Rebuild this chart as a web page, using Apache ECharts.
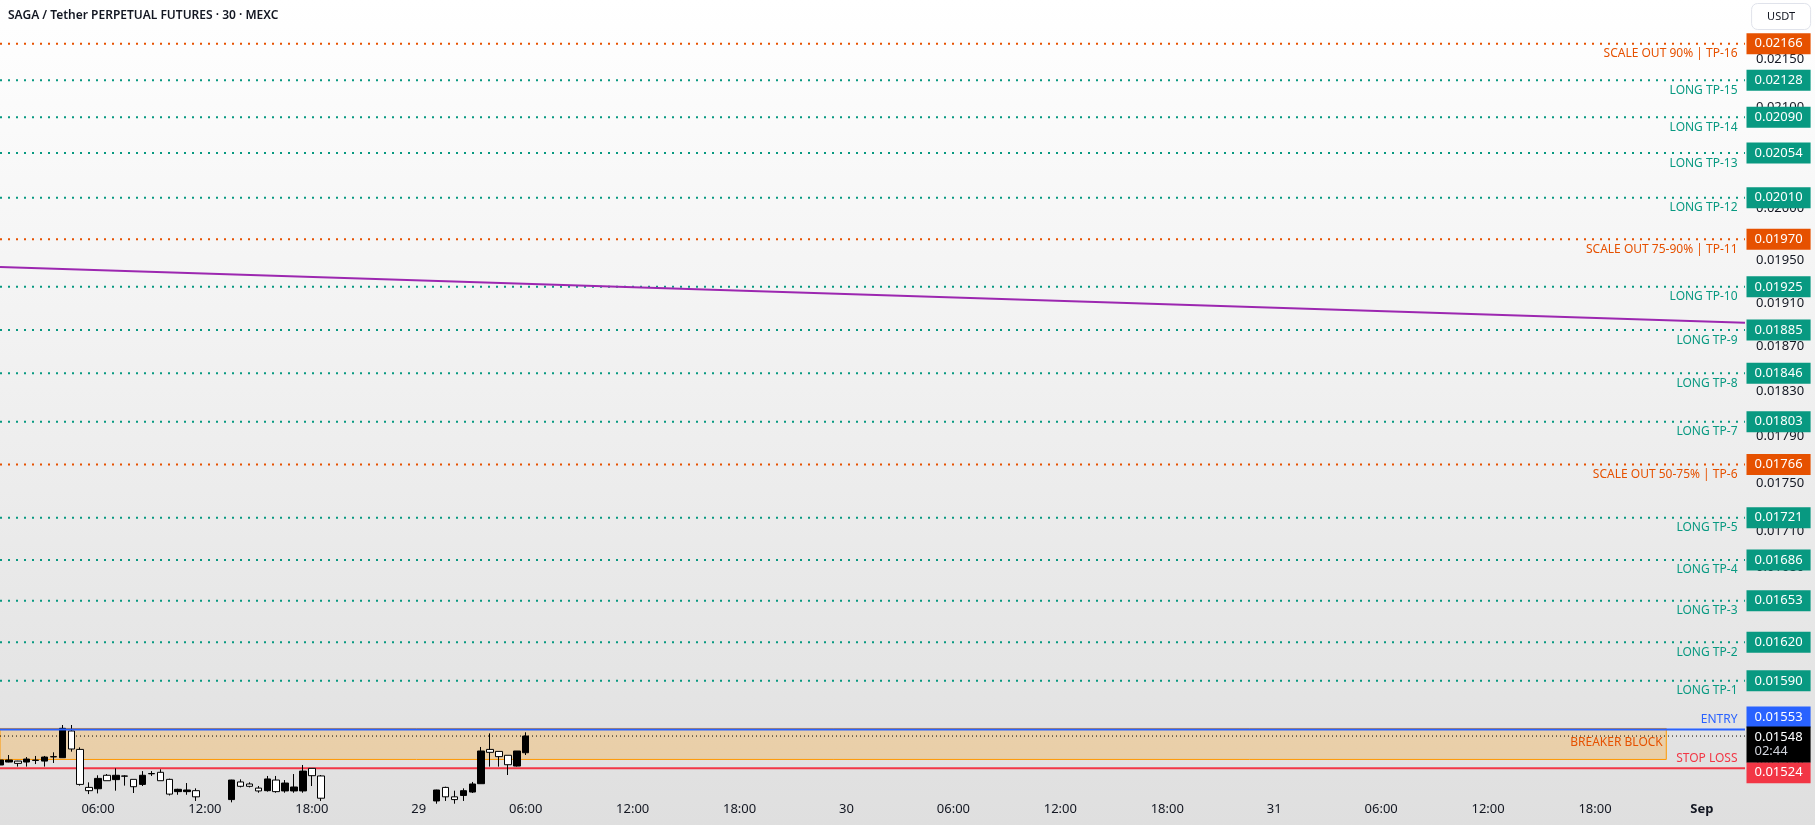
<!DOCTYPE html>
<html><head><meta charset="utf-8">
<script src="https://cdn.jsdelivr.net/npm/echarts@6/dist/echarts.min.js"></script>
<style>html,body{margin:0;padding:0;overflow:hidden;}#c{width:1815px;height:825px;}</style>
</head><body><div id="c"></div>
<script>
// ---------- DATA ----------
const barStart = '2025-08-28T00:30:00Z';   // first visible 30-min bar
const barMinutes = 30;
// [open, close, low, high]
const candles = [
  [0.015264,0.015301,0.015252,0.015338],[0.015286,0.015301,0.015284,0.015338],
  [0.015293,0.015276,0.015252,0.015295],[0.015286,0.015308,0.015252,0.015323],
  [0.015298,0.015300,0.015271,0.015331],[0.015293,0.015323,0.015252,0.015331],
  [0.015324,0.015326,0.015279,0.015358],[0.015318,0.015538,0.015318,0.015563],
  [0.015518,0.015383,0.015363,0.015563],[0.015380,0.015121,0.015112,0.015395],
  [0.015099,0.015075,0.015050,0.015136],[0.015089,0.015165,0.015055,0.015188],
  [0.015188,0.015148,0.015148,0.015197],[0.015156,0.015188,0.015075,0.015239],
  [0.015183,0.015181,0.015112,0.015188],[0.015158,0.015104,0.015058,0.015158],
  [0.015121,0.015188,0.015109,0.015219],[0.015199,0.015201,0.015183,0.015219],
  [0.015210,0.015148,0.015148,0.015232],[0.015158,0.015050,0.015040,0.015163],
  [0.015068,0.015085,0.015045,0.015089],[0.015068,0.015080,0.015045,0.015131],
  [0.015075,0.015030,0.015000,0.015092],[0.015030,0.014980,0.014940,0.015050],
  [0.014980,0.015000,0.014930,0.015040],[0.015000,0.015010,0.014960,0.015050],
  [0.015010,0.015153,0.014990,0.015155],[0.015139,0.015107,0.015099,0.015158],
  [0.015124,0.015107,0.015099,0.015136],[0.015094,0.015073,0.015060,0.015109],
  [0.015075,0.015161,0.015068,0.015183],[0.015153,0.015068,0.015060,0.015183],
  [0.015073,0.015131,0.015060,0.015153],[0.015073,0.015102,0.015060,0.015197],
  [0.015073,0.015219,0.015060,0.015264],[0.015239,0.015185,0.015109,0.015239],
  [0.015183,0.015020,0.015000,0.015190],[0.015020,0.014970,0.014930,0.015050],
  [0.014970,0.014940,0.014900,0.015010],[0.014940,0.014980,0.014910,0.015020],
  [0.014980,0.014950,0.014920,0.015030],[0.014950,0.014900,0.014860,0.014980],
  [0.014900,0.014930,0.014870,0.014970],[0.014930,0.014960,0.014900,0.015000],
  [0.014960,0.014920,0.014890,0.014990],[0.014920,0.014970,0.014900,0.015010],
  [0.014970,0.014990,0.014940,0.015040],[0.014990,0.014960,0.014930,0.015030],
  [0.014960,0.015000,0.014940,0.015040],[0.015000,0.015080,0.014980,0.015082],
  [0.015099,0.015030,0.015000,0.015104],[0.015030,0.015010,0.014980,0.015075],
  [0.015040,0.015075,0.015000,0.015092],[0.015065,0.015124,0.015058,0.015139],
  [0.015126,0.015368,0.015126,0.015398],[0.015380,0.015358,0.015252,0.015500],
  [0.015365,0.015326,0.015252,0.015365],[0.015336,0.015266,0.015190,0.015336],
  [0.015256,0.015368,0.015252,0.015368],[0.015355,0.015480,0.015338,0.015508]
];
const tpLevels = [0.01590,0.01620,0.01653,0.01686,0.01721,0.01766,0.01803,0.01846,
  0.01885,0.01925,0.01970,0.02010,0.02054,0.02090,0.02128,0.02166];
const tpNames = ['LONG TP-1','LONG TP-2','LONG TP-3','LONG TP-4','LONG TP-5',
  'SCALE OUT 50-75% | TP-6','LONG TP-7','LONG TP-8','LONG TP-9','LONG TP-10',
  'SCALE OUT 75-90% | TP-11','LONG TP-12','LONG TP-13','LONG TP-14','LONG TP-15',
  'SCALE OUT 90% | TP-16'];
const entryPrice = 0.01553;
const stopPrice = 0.01524;
const lastPrice = 0.01548;
const countdown = '02:44';
const breakerBlock = {top: 0.015537, bottom: 0.015305, end: '2025-08-31T22:00:00Z'};
const trendLine = [['2025-08-28T00:30:00Z', 0.019435], ['2025-09-01T02:25:00Z', 0.018917]];
const yTicks = [0.0153,0.0156,0.0159,0.0162,0.0165,0.0168,0.0171,0.0175,0.0179,
  0.0183,0.0187,0.0191,0.0195,0.0200,0.0205,0.0210,0.0215];
const xTicks = ['2025-08-28T06:00:00Z','2025-08-28T12:00:00Z','2025-08-28T18:00:00Z',
  '2025-08-29T00:00:00Z','2025-08-29T06:00:00Z','2025-08-29T12:00:00Z','2025-08-29T18:00:00Z',
  '2025-08-30T00:00:00Z','2025-08-30T06:00:00Z','2025-08-30T12:00:00Z','2025-08-30T18:00:00Z',
  '2025-08-31T00:00:00Z','2025-08-31T06:00:00Z','2025-08-31T12:00:00Z','2025-08-31T18:00:00Z',
  '2025-09-01T00:00:00Z'];
const monthNames = ['Jan','Feb','Mar','Apr','May','Jun','Jul','Aug','Sep','Oct','Nov','Dec'];
const xRange = ['2025-08-28T00:30:00Z', '2025-09-01T02:25:00Z'];
const yRange = [0.015058, 0.022124];

// ---------- BUILD ----------
const FONT = 'Noto Sans';
const TEAL = '#089981', ORANGE = '#e65100', BLUE = '#2962ff', RED = '#f23645';
const X_MIN = Date.parse(xRange[0]), X_MAX = Date.parse(xRange[1]);
const t0 = Date.parse(barStart);
const candleData = candles.map((c, i) => [t0 + i * barMinutes * 60000, c[0], c[1], c[2], c[3]]);
const isScale = n => n.indexOf('SCALE') === 0;
const lvlColor = n => isScale(n) ? ORANGE : TEAL;

const levelLine = (v, lineStyle, z) => ({
  type: 'line', data: [[X_MIN, v], [X_MAX, v]], showSymbol: false, symbol: 'none',
  silent: true, z: z || 2, lineStyle: lineStyle
});
const levelSeries = tpLevels.map((v, i) =>
  levelLine(v, {color: lvlColor(tpNames[i]), width: 2, type: [2, 6], cap: 'butt'}));
levelSeries.push(levelLine(lastPrice, {color: '#000000', width: 1, type: [1, 3]}));
levelSeries.push(levelLine(entryPrice, {color: BLUE, width: 2, type: 'solid'}, 5));
levelSeries.push(levelLine(stopPrice, {color: RED, width: 2, type: 'solid'}));

const nameLabels = tpLevels.map((v, i) => ({
  value: [X_MAX, v], label: {color: lvlColor(tpNames[i]), offset: [0, 10], formatter: tpNames[i]}
}));
nameLabels.push({value: [X_MAX, entryPrice], label: {color: BLUE, offset: [0, -10], formatter: 'ENTRY'}});
nameLabels.push({value: [X_MAX, stopPrice], label: {color: RED, offset: [0, -10], formatter: 'STOP LOSS'}});

const boxLabels = tpLevels.map((v, i) => ({
  value: [X_MAX, v], label: {backgroundColor: lvlColor(tpNames[i])}
}));
boxLabels.push({value: [X_MAX, entryPrice], label: {backgroundColor: BLUE, offset: [0, -12.5]}});
boxLabels.push({value: [X_MAX, stopPrice], label: {backgroundColor: RED, offset: [0, 4.5]}});
boxLabels.push({value: [X_MAX, lastPrice], label: {backgroundColor: '#000000', offset: [0, 8.5],
  formatter: '{a|' + lastPrice.toFixed(5) + '}\n{b|' + countdown + '}'}});

const chart = echarts.init(document.getElementById('c'));
chart.setOption({
  animation: false,
  backgroundColor: {type: 'linear', x: 0, y: 0, x2: 0, y2: 1,
    colorStops: [{offset: 0, color: '#ffffff'}, {offset: 1, color: '#dfdfdf'}]},
  title: [
    {text: 'SAGA / Tether PERPETUAL FUTURES · 30 · MEXC', left: 8, top: 10, padding: 0,
      textStyle: {fontFamily: FONT, fontSize: 12, fontWeight: 600, color: '#131722'}},
    {text: 'USDT', right: 4, top: 3, padding: [8, 16], backgroundColor: '#ffffff',
      borderColor: '#e0e3eb', borderWidth: 1, borderRadius: 6,
      textStyle: {fontFamily: FONT, fontSize: 11, fontWeight: 'normal', color: '#131722'}}
  ],
  grid: {left: 0, right: 70, top: 0, bottom: 32, containLabel: false},
  xAxis: {
    type: 'value', min: X_MIN, max: X_MAX, scale: true,
    axisLine: {show: false}, axisTick: {show: false}, splitLine: {show: false},
    axisLabel: {
      customValues: xTicks.map(s => Date.parse(s)),
      margin: 10, color: '#131722', fontFamily: FONT, fontSize: 13,
      formatter: function (v) {
        const d = new Date(v);
        const h = d.getUTCHours(), m = d.getUTCMinutes();
        if (h === 0 && m === 0) {
          if (d.getUTCDate() === 1) return '{b|' + monthNames[d.getUTCMonth()] + '}';
          return String(d.getUTCDate());
        }
        return String(h).padStart(2, '0') + ':' + String(m).padStart(2, '0');
      },
      rich: {b: {fontWeight: 'bold', fontFamily: FONT, fontSize: 13, color: '#131722'}}
    }
  },
  yAxis: {
    type: 'log', logBase: 10, position: 'right', min: yRange[0], max: yRange[1],
    axisLine: {show: false}, axisTick: {show: false}, splitLine: {show: false},
    axisLabel: {
      customValues: yTicks, margin: 11, color: '#131722', fontFamily: FONT, fontSize: 13,
      formatter: v => Number(v).toFixed(5)
    }
  },
  series: [
    {
      type: 'candlestick', data: candleData, barWidth: 7, clip: true, z: 4,
      itemStyle: {color: '#000000', color0: '#ffffff', borderColor: '#000000', borderColor0: '#000000', borderWidth: 1},
      markArea: {
        silent: true,
        itemStyle: {color: 'rgba(255,152,0,0.25)', borderColor: '#ff9800', borderWidth: 1},
        label: {show: true, position: 'insideRight', distance: 4, color: ORANGE,
          fontFamily: FONT, fontSize: 12, offset: [0, -1]},
        data: [[{name: 'BREAKER BLOCK', xAxis: X_MIN, yAxis: breakerBlock.top},
                {xAxis: Date.parse(breakerBlock.end), yAxis: breakerBlock.bottom}]]
      }
    },
    {
      type: 'line', data: trendLine.map(p => [Date.parse(p[0]), p[1]]), showSymbol: false,
      symbol: 'none', lineStyle: {color: '#9c27b0', width: 2}, z: 3, silent: true
    },
    ...levelSeries,
    {
      type: 'scatter', data: nameLabels, symbolSize: 1, clip: false, silent: true, z: 10,
      itemStyle: {color: 'rgba(0,0,0,0)', opacity: 1},
      label: {show: true, position: 'left', distance: 7, fontFamily: FONT, fontSize: 12, opacity: 1}
    },
    {
      type: 'scatter', data: boxLabels, symbolSize: 1, clip: false, silent: true, z: 11,
      itemStyle: {color: 'rgba(0,0,0,0)', opacity: 1},
      label: {show: true, position: 'right', distance: 1, fontFamily: FONT, fontSize: 13,
        lineHeight: 13, color: '#ffffff', padding: [4, 8, 4, 8], opacity: 1,
        formatter: p => p.value[1].toFixed(5),
        rich: {a: {color: '#ffffff', fontFamily: FONT, fontSize: 13, lineHeight: 14},
               b: {color: '#d1d4dc', fontFamily: FONT, fontSize: 13, lineHeight: 14}}}
    }
  ]
});
</script></body></html>
